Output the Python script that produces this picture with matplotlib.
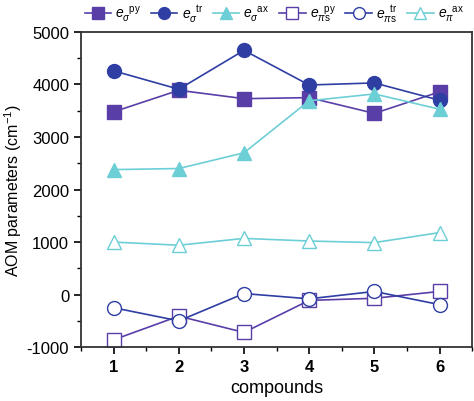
import matplotlib
matplotlib.use('Agg')
from matplotlib import pyplot as plt
from matplotlib.ticker import MultipleLocator

plt.rcParams['font.family'] = ['Liberation Sans', 'DejaVu Sans']
plt.rcParams['mathtext.fontset'] = 'custom'
plt.rcParams['mathtext.rm'] = 'Liberation Sans'
plt.rcParams['mathtext.it'] = 'Liberation Sans:italic'
plt.rcParams['axes.unicode_minus'] = False

compounds = [1, 2, 3, 4, 5, 6]

e_sigma_py = [3480, 3890, 3730, 3750, 3450, 3860]
e_sigma_tr = [4260, 3910, 4650, 3990, 4030, 3700]
e_sigma_ax = [2380, 2400, 2700, 3690, 3820, 3530]
e_pis_py = [-860, -410, -720, -110, -70, 60]
e_pis_tr = [-250, -500, 20, -80, 60, -190]
e_pi_ax = [1000, 940, 1070, 1020, 990, 1180]

PURPLE = '#5a3ea8'
BLUE = '#2e3ea3'
CYAN = '#6dcfd6'

series = [
    (e_sigma_py, PURPLE, 's', True, r'$e_{\sigma}^{\ \ \mathrm{py}}$'),
    (e_sigma_tr, BLUE, 'o', True, r'$e_{\sigma}^{\ \ \mathrm{tr}}$'),
    (e_sigma_ax, CYAN, '^', True, r'$e_{\sigma}^{\ \ \mathrm{ax}}$'),
    (e_pis_py, PURPLE, 's', False, r'$e_{\pi\mathrm{s}}^{\ \ \mathrm{py}}$'),
    (e_pis_tr, BLUE, 'o', False, r'$e_{\pi\mathrm{s}}^{\ \ \mathrm{tr}}$'),
    (e_pi_ax, CYAN, '^', False, r'$e_{\pi}^{\ \ \mathrm{ax}}$'),
]

fig = plt.figure(figsize=(4.74, 4.02), dpi=100)
ax = fig.add_axes([0.171, 0.134, 0.825, 0.784])

for values, color, marker, filled, label in series:
    ax.plot(compounds, values, color=color, marker=marker, markersize=10,
            linewidth=1.2, markerfacecolor=color if filled else 'white',
            markeredgecolor=color, markeredgewidth=1.0, label=label)

ax.set_xlim(0.5, 6.5)
ax.set_ylim(-1000, 5000)
ax.yaxis.set_major_locator(MultipleLocator(1000))
ax.yaxis.set_minor_locator(MultipleLocator(500))
ax.xaxis.set_major_locator(MultipleLocator(1))
ax.xaxis.set_minor_locator(MultipleLocator(0.5))
ax.tick_params(which='major', direction='out', length=5, width=1.2,
               labelsize=12)
ax.tick_params(which='minor', direction='out', length=3, width=1.0)
for lbl in ax.get_xticklabels():
    lbl.set_fontweight('bold')
for spine in ax.spines.values():
    spine.set_linewidth(1.3)
    spine.set_color('#333333')

ax.set_xlabel('compounds', fontsize=13)
ax.set_ylabel(r'AOM parameters (cm$^{-1}$)', fontsize=11.5, labelpad=2)

ax.legend(loc='lower left', bbox_to_anchor=(-0.01, 1.0), ncol=6,
          frameon=False, fontsize=10, markerscale=0.85, handlelength=1.9,
          handletextpad=0.3, columnspacing=0.7, borderaxespad=0.15)

fig.savefig('out.png', dpi=100)
